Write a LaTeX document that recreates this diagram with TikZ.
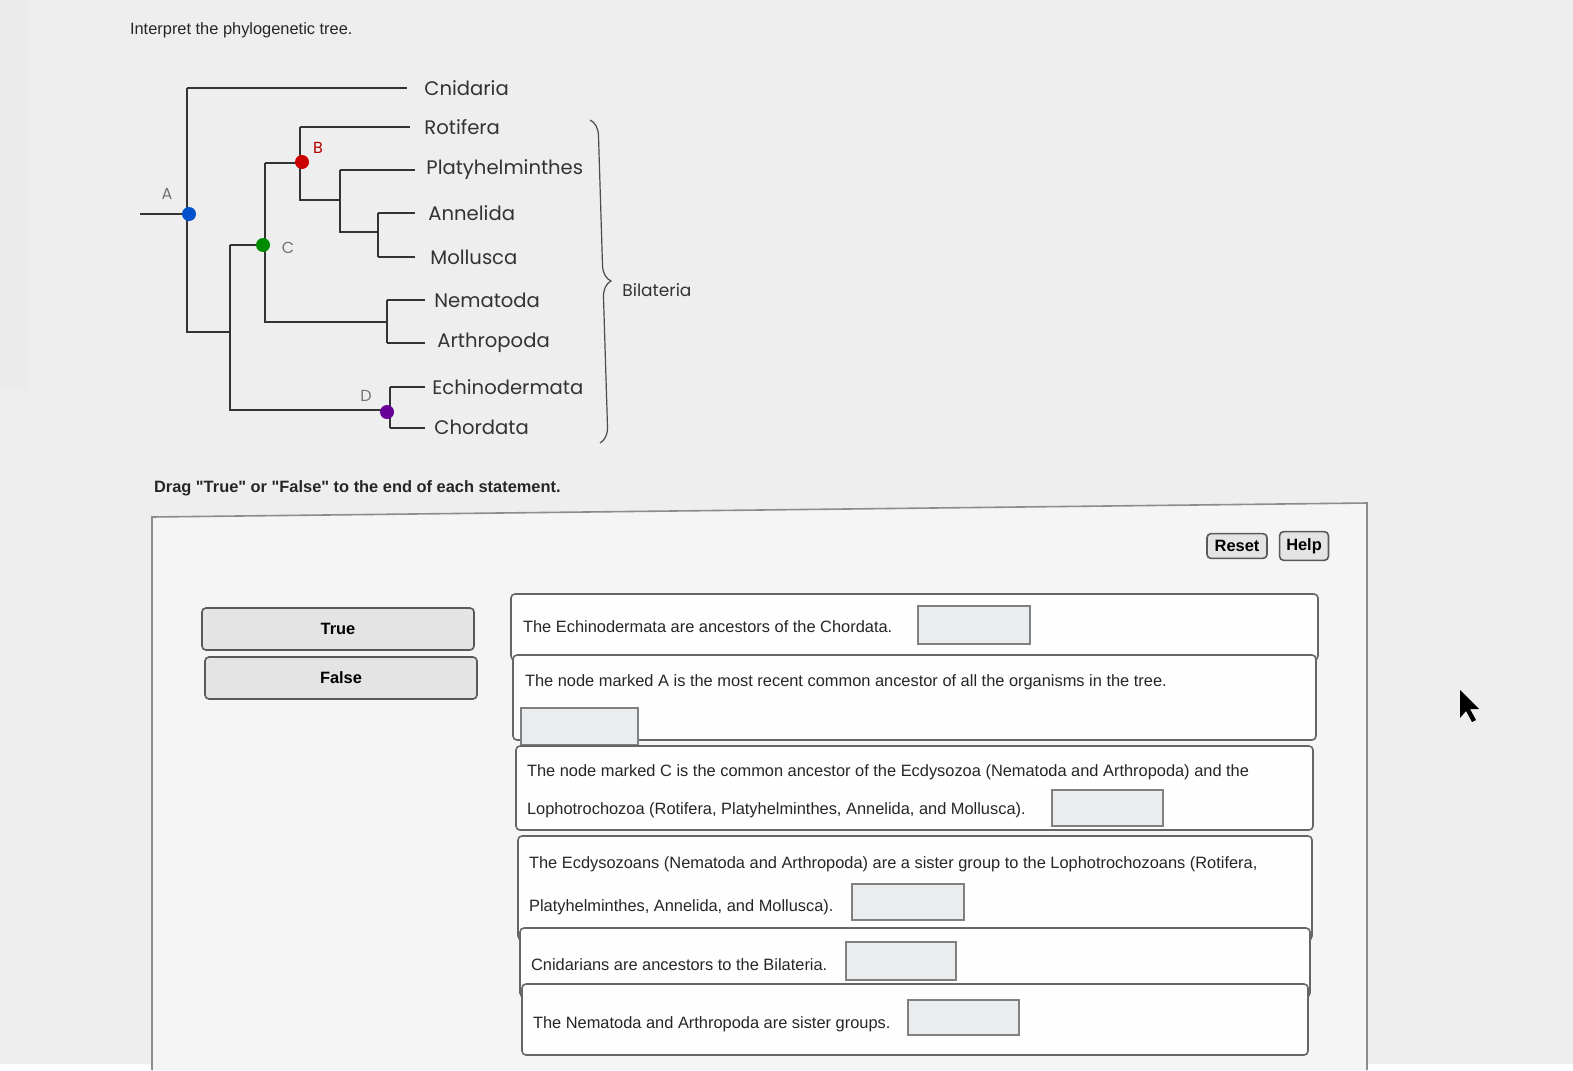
\documentclass[tikz,border=0pt]{standalone}
\usepackage{fontspec}
\setmainfont{Liberation Sans}[Ligatures=TeXOff]
\newfontfamily\treefont{Poppins}
\usetikzlibrary{decorations.pathreplacing}
\definecolor{bg}{HTML}{EEEEEE}
\definecolor{boxfill}{HTML}{E4E4E4}
\definecolor{slot}{HTML}{E9EDEF}
\begin{document}
\begin{tikzpicture}[x=0.5pt,y=-0.5pt,
  br/.style={line width=1.2pt,black!80},
  nd/.style={circle,inner sep=0pt,minimum size=7pt,draw=none},
  tl/.style={anchor=west,font=\treefont\fontsize{9.8}{11}\selectfont,text=black!80,inner sep=1pt},
  ui/.style={font=\fontsize{8.2}{10}\selectfont,text=black!85},
  stmt/.style={draw=black!60,line width=0.8pt,rounded corners=2pt,fill=white!96!bg},
  slotbox/.style={draw=black!50,line width=0.6pt,fill=slot},
  btn/.style={draw=black!65,line width=0.8pt,rounded corners=2pt,fill=boxfill,font=\bfseries\fontsize{8.2}{10}\selectfont}]
\fill[bg] (0,0) rectangle (1573,1064);
\fill[black!8] (0,0) rectangle (28,390);
\node[ui,anchor=west] (title) at (123,30) {Interpret the phylogenetic tree.};
% tree
\draw[br] (187,88) -- (407,88);
\draw[br] (187,88) -- (187,332) -- (230,332);
\draw[br] (140,214) -- (189,214);
\draw[br] (230,245) -- (230,410) -- (387,410);
\draw[br] (230,245) -- (263,245);
\draw[br] (265,163) -- (265,322) -- (387,322);
\draw[br] (265,163) -- (300,163);
\draw[br] (300,127) -- (300,200) -- (340,200);
\draw[br] (300,127) -- (410,127);
\draw[br] (340,170) -- (340,232) -- (378,232);
\draw[br] (340,170) -- (415,170);
\draw[br] (378,213) -- (378,257);
\draw[br] (378,213) -- (415,213);
\draw[br] (378,257) -- (415,257);
\draw[br] (387,300) -- (387,343);
\draw[br] (387,300) -- (425,300);
\draw[br] (387,343) -- (425,343);
\draw[br] (390,387) -- (390,428);
\draw[br] (390,387) -- (425,387);
\draw[br] (390,428) -- (425,428);
\node[nd,fill=blue!60!cyan!80!black] (A) at (189,214) {};
\node[nd,fill=red!80!black] (B) at (302,162) {};
\node[nd,fill=green!55!black] (C) at (263,245) {};
\node[nd,fill=violet!80!blue] (D) at (387,412) {};
\node[text=black!55,font=\treefont\fontsize{8}{9}\selectfont] at (167,194) {A};
\node[text=red!70!black,font=\treefont\fontsize{8}{9}\selectfont] at (318,148) {B};
\node[text=black!55,font=\treefont\fontsize{8}{9}\selectfont] at (288,248) {C};
\node[text=black!55,font=\treefont\fontsize{8}{9}\selectfont] at (366,396) {D};
\node[tl] at (422,88) {Cnidaria};
\node[tl] at (422,127) {Rotifera};
\node[tl] at (424,170) {Platyhelminthes};
\node[tl] at (426,213) {Annelida};
\node[tl] at (428,257) {Mollusca};
\node[tl] at (432,300) {Nematoda};
\node[tl] at (435,343) {Arthropoda};
\node[tl] at (430,387) {Echinodermata};
\node[tl] at (432,427) {Chordata};
\draw[black!70,line width=0.6pt,decorate,decoration={brace,amplitude=8pt}] (590,120) -- (600,443);
\node[tl,font=\treefont\fontsize{8.5}{10}\selectfont] at (620,290) {Bilateria};
% UI
\node[ui,anchor=west,font=\bfseries\fontsize{8.2}{10}\selectfont] at (147,488) {Drag "True" or "False" to the end of each statement.};
\draw[black!45,line width=0.8pt,fill=bg!60!white] (152,1070) -- (152,517) -- (1367,503) -- (1367,1070);
\node[btn,minimum width=30pt,minimum height=12pt] (reset) at (1237,546) {Reset};
\node[btn,minimum width=24pt,minimum height=12pt] (help) at (1304,546) {Help};
\node[btn,minimum width=136pt,minimum height=21pt] (true) at (338,629) {True};
\node[btn,minimum width=136pt,minimum height=21pt] (false) at (341,678) {False};
\draw[stmt] (511,594) rectangle (1318,660);
\node[ui,anchor=west] at (516,627) {The Echinodermata are ancestors of the Chordata.};
\draw[slotbox] (918,606) rectangle (1030,644);
\draw[stmt] (513,655) rectangle (1316,740);
\node[ui,anchor=west] at (518,682) {The node marked A is the most recent common ancestor of all the organisms in the tree.};
\draw[slotbox] (521,708) rectangle (638,745);
\draw[stmt] (516,746) rectangle (1313,830);
\node[ui,anchor=west] at (520,772) {The node marked C is the common ancestor of the Ecdysozoa (Nematoda and Arthropoda) and the};
\node[ui,anchor=west] at (520,810) {Lophotrochozoa (Rotifera, Platyhelminthes, Annelida, and Mollusca).};
\draw[slotbox] (1052,790) rectangle (1163,826);
\draw[stmt] (518,836) rectangle (1312,940);
\node[ui,anchor=west] at (522,864) {The Ecdysozoans (Nematoda and Arthropoda) are a sister group to the Lophotrochozoans (Rotifera,};
\node[ui,anchor=west] at (522,907) {Platyhelminthes, Annelida, and Mollusca).};
\draw[slotbox] (852,884) rectangle (964,920);
\draw[stmt] (520,928) rectangle (1310,997);
\node[ui,anchor=west] at (524,965) {Cnidarians are ancestors to the Bilateria.};
\draw[slotbox] (846,942) rectangle (956,980);
\draw[stmt] (522,984) rectangle (1308,1055);
\node[ui,anchor=west] at (526,1024) {The Nematoda and Arthropoda are sister groups.};
\draw[slotbox] (908,1000) rectangle (1019,1035);
% cursor
\fill[black] (1460,690) -- (1460,718) -- (1466,711) -- (1472,722) -- (1476,720) -- (1470,709) -- (1479,709) -- cycle;
\end{tikzpicture}
\end{document}
